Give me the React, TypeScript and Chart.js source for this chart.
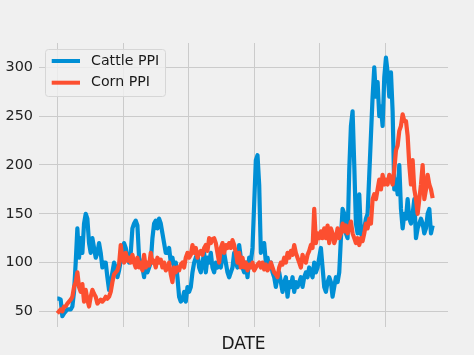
import React, { useEffect, useRef } from "react";
import { Chart, registerables } from "chart.js";

Chart.register(...registerables);

const FONT = "'DejaVu Sans', sans-serif";

const SERIES_NAMES = ["Cattle PPI", "Corn PPI"];
const COLORS = ["#008fd5", "#fc4f30"];

const CATTLE: number[] = [
  63, 63,
  62, 45, 48, 50, 52, 52, 52, 55, 70, 100, 135, 105, 125, 110, 140, 150, 145, 120,
  110, 125, 115, 105, 110, 120, 110, 95, 100, 100, 85, 72, 80, 90, 100, 95, 85, 92,
  102, 110, 120, 115, 105, 100, 110, 135, 140, 143, 138, 105, 100, 95, 85, 100, 90, 95,
  100, 125, 140, 143, 135, 145, 140, 130, 120, 110, 110, 115, 100, 105, 95, 100, 85, 65,
  60, 62, 70, 60, 75, 70, 75, 90, 100, 105, 110, 95, 90, 100, 110, 90, 105, 100,
  110, 95, 90, 100, 95, 100, 95, 105, 110, 100, 90, 85, 90, 95, 110, 100, 95, 118,
  105, 95, 90, 100, 85, 105, 100, 115, 160, 205, 210, 180, 110, 115, 120, 100, 105, 95,
  100, 90, 85, 75, 85, 90, 80, 70, 80, 85, 65, 80, 75, 85, 70, 80, 75, 80,
  85, 75, 85, 90, 85, 95, 90, 85, 100, 90, 95, 105, 115, 95, 75, 70, 80, 85,
  80, 65, 75, 85, 80, 90, 125, 155, 150, 130, 125, 195, 240, 255, 200, 140, 130, 170,
  130, 125, 135, 145, 150, 190, 230, 270, 300, 270, 285, 250, 260, 240, 290, 310, 295, 270,
  295, 255, 175, 185, 170, 200, 155, 135, 150, 145, 165, 145, 140, 150, 165, 125, 135, 140,
  145, 140, 130, 135, 150, 155, 130, 138,
];

const CORN: number[] = [
  48, 50,
  52, 50, 55, 55, 58, 60, 62, 65, 75, 80, 90, 75, 70, 78, 60, 72, 62, 55,
  65, 72, 68, 65, 58, 60, 62, 60, 62, 65, 63, 65, 70, 80, 88, 90, 92, 98,
  118, 105, 100, 110, 102, 105, 100, 108, 100, 95, 105, 95, 100, 92, 108, 95, 100, 97,
  110, 100, 102, 95, 105, 100, 103, 95, 100, 92, 95, 100, 88, 80, 95, 90, 95, 92,
  98, 100, 95, 105, 110, 105, 108, 118, 110, 115, 105, 110, 112, 108, 115, 118, 112, 125,
  120, 124, 125, 120, 110, 100, 115, 120, 110, 118, 115, 120, 115, 123, 118, 110, 100, 110,
  95, 105, 95, 100, 92, 98, 95, 100, 92, 95, 98, 100, 95, 100, 93, 98, 92, 95,
  100, 95, 90, 88, 85, 95, 100, 98, 105, 100, 110, 105, 112, 108, 118, 110, 105, 100,
  95, 108, 102, 100, 108, 112, 118, 115, 155, 120, 130, 125, 132, 125, 135, 125, 138, 120,
  135, 130, 120, 125, 135, 125, 130, 140, 132, 138, 130, 135, 142, 130, 125, 120, 125, 118,
  125, 122, 130, 140, 135, 145, 140, 165, 170, 165, 175, 185, 175, 190, 180, 185, 180, 190,
  185, 180, 195, 215, 220, 235, 240, 252, 245, 245, 230, 200, 180, 205, 175, 165, 150, 165,
  180, 200, 165, 175, 190, 180, 175, 166,
];

const INDEX: number[] = CATTLE.map((_, i) => i);

const Y_TICKS = [50, 100, 150, 200, 250, 300];
const Y_MIN = 34;
const Y_MAX = 325;

const X_TICKS = [0, 39.4, 78.7, 118.1, 157.4, 196.8];
const X_TICK_LABELS = ["", "", "", "", "", ""];
const X_MIN = -11;
const X_MAX = 234.2;

const X_TITLE = "DATE";

const legendPlugin = {
  id: "mplLegend",
  afterDraw(chart: any) {
    const ctx = chart.ctx as CanvasRenderingContext2D;
    ctx.save();
    const x = 45.5, y = 49.5, w = 120, h = 47, r = 3;
    ctx.beginPath();
    ctx.moveTo(x + r, y);
    ctx.lineTo(x + w - r, y);
    ctx.arcTo(x + w, y, x + w, y + r, r);
    ctx.lineTo(x + w, y + h - r);
    ctx.arcTo(x + w, y + h, x + w - r, y + h, r);
    ctx.lineTo(x + r, y + h);
    ctx.arcTo(x, y + h, x, y + h - r, r);
    ctx.lineTo(x, y + r);
    ctx.arcTo(x, y, x + r, y, r);
    ctx.closePath();
    ctx.fillStyle = "rgba(240,240,240,0.8)";
    ctx.fill();
    ctx.strokeStyle = "#d6d6d6";
    ctx.lineWidth = 1;
    ctx.stroke();

    const rows = [61, 82.7];
    chart.data.datasets.forEach((ds: any, i: number) => {
      const yy = rows[i];
      ctx.beginPath();
      ctx.moveTo(51.7, yy);
      ctx.lineTo(80, yy);
      ctx.strokeStyle = ds.borderColor;
      ctx.lineWidth = 4;
      ctx.lineCap = "butt";
      ctx.stroke();
      ctx.fillStyle = "#1a1a1a";
      ctx.font = `14.2px ${FONT}`;
      ctx.textBaseline = "middle";
      ctx.textAlign = "left";
      ctx.fillText(ds.label, 91, yy);
    });
    ctx.restore();
  },
};

export default function App() {
  const canvasRef = useRef<HTMLCanvasElement | null>(null);

  useEffect(() => {
    const canvas = canvasRef.current;
    if (!canvas) return;
    const chart = new Chart(canvas, {
      type: "line",
      data: {
        datasets: [
          {
            label: SERIES_NAMES[0],
            data: INDEX.map((i) => ({ x: i, y: CATTLE[i] })),
            borderColor: COLORS[0],
            backgroundColor: COLORS[0],
            borderWidth: 4.2,
            pointRadius: 0,
            tension: 0,
            borderJoinStyle: "round",
            borderCapStyle: "butt",
            order: 1,
          },
          {
            label: SERIES_NAMES[1],
            data: INDEX.map((i) => ({ x: i, y: CORN[i] })),
            borderColor: COLORS[1],
            backgroundColor: COLORS[1],
            borderWidth: 4.2,
            pointRadius: 0,
            tension: 0,
            borderJoinStyle: "round",
            borderCapStyle: "butt",
            order: 0,
          },
        ],
      },
      options: {
        animation: false,
        responsive: false,
        devicePixelRatio: 1,
        layout: { padding: { left: 0, top: 43, right: 26, bottom: 0 } },
        plugins: {
          legend: { display: false },
          tooltip: { enabled: false },
        },
        scales: {
          x: {
            type: "linear",
            min: X_MIN,
            max: X_MAX,
            afterBuildTicks: (s: any) => {
              s.ticks = X_TICKS.map((v) => ({ value: v }));
            },
            afterFit: (s: any) => {
              s.height = 28;
            },
            ticks: {
              autoSkip: false,
              maxRotation: 0,
              padding: 0,
              callback: (_v: any, i: number) => X_TICK_LABELS[i] ?? "",
              font: { family: FONT, size: 14.4 },
              color: "#222",
            },
            grid: { color: "#cbcbcb", lineWidth: 1, drawTicks: false },
            border: { display: false },
            title: {
              display: true,
              text: X_TITLE,
              color: "#1a1a1a",
              font: { family: FONT, size: 17 },
              padding: 0,
            },
          },
          y: {
            type: "linear",
            min: Y_MIN,
            max: Y_MAX,
            afterBuildTicks: (s: any) => {
              s.ticks = Y_TICKS.map((v) => ({ value: v }));
            },
            afterFit: (s: any) => {
              s.width = 39;
            },
            ticks: {
              padding: 6,
              font: { family: FONT, size: 14.4 },
              color: "#222",
            },
            grid: { color: "#cbcbcb", lineWidth: 1, drawTicks: false },
            border: { display: false },
          },
        },
      },
      plugins: [legendPlugin],
    } as any);
    return () => chart.destroy();
  }, []);

  return (
    <div
      style={{
        position: "absolute",
        left: 0,
        top: 0,
        width: 474,
        height: 355,
        background: "#f0f0f0",
      }}
    >
      <canvas ref={canvasRef} width={474} height={355} style={{ width: 474, height: 355, display: "block" }} />
    </div>
  );
}
